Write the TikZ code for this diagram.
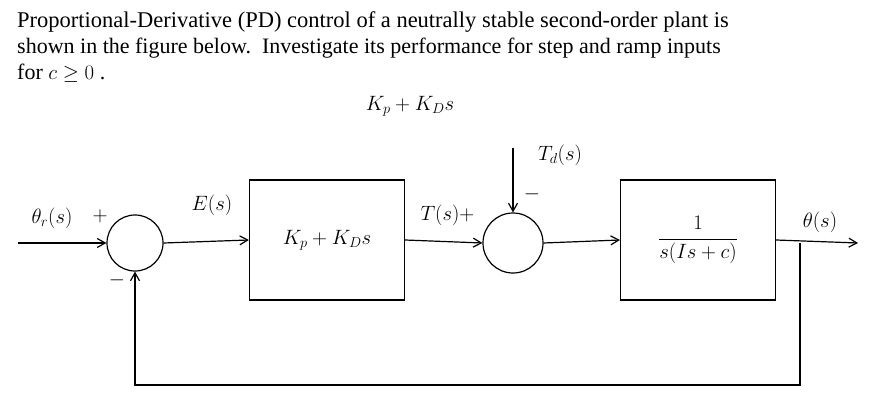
\documentclass[tikz,border=0pt]{standalone}
\usepackage{fontspec}
\setmainfont{Liberation Serif}
\usetikzlibrary{arrows.meta}
\begin{document}
\begin{tikzpicture}[x=1pt,y=-1pt,
  blk/.style={draw,line width=1.2pt,minimum width=155pt,minimum height=120pt},
  sumc/.style={draw,circle,line width=1.2pt,minimum size=56pt,inner sep=0},
  sig/.style={line width=1.2pt,-{Straight Barb[length=8pt,width=9pt]}},
  lbl/.style={font=\fontsize{22}{26}\selectfont,inner sep=0}]
\useasboundingbox (0,0) rectangle (892,409);
\node[lbl,anchor=west,align=left] (hdr) at (17,47) {\fontsize{22.5}{29}\selectfont Proportional-Derivative (PD) control of a neutrally stable second-order plant is\\ shown in the figure below.\ \ Investigate its performance for step and ramp inputs\\ for \(c\geq 0\) .};
\node[lbl] (kk) at (410,106) {\(K_p+K_D s\)};
\node[sumc] (s1) at (135,243) {};
\node[sumc,minimum size=60pt] (s2) at (513,243) {};
\node[blk] (b1) at (327,240) {};
\node[lbl] (b1t) at (327,240) {\(K_p+K_D s\)};
\node[blk] (b2) at (698,240) {};
\node[lbl] (b2t) at (698,240) {\(\displaystyle\frac{1}{s(Is+c)}\)};
\coordinate (in) at (18,243);
\coordinate (td) at (513,148);
\coordinate (out) at (858,243);
\coordinate (fb) at (800,243);
\coordinate (fb1) at (800,385);
\coordinate (fb2) at (135,385);
\draw[sig] (in) -- (s1.west);
\draw[sig] (s1.east) -- (b1.west);
\draw[sig] (b1.east) -- (s2.west);
\draw[sig] (td) -- (s2.north);
\draw[sig] (s2.east) -- (b2.west);
\draw[sig] (b2.east) -- (out);
\draw[sig] (fb) -- (fb1) -- (fb2) -- (s1.south);
\node[lbl] (l1) at (52,218) {\(\theta_r(s)\)};
\node[lbl] (l2) at (100,216) {\(+\)};
\node[lbl] (l3) at (212,205) {\(E(s)\)};
\node[lbl] (l4) at (440,215) {\(T(s)\)\rlap{\(+\)}};
\node[lbl] (l5) at (560,155) {\(T_d(s)\)};
\node[lbl] (l6) at (532,194) {\(-\)};
\node[lbl] (l7) at (820,222) {\(\theta(s)\)};
\node[lbl] (l8) at (117,280) {\(-\)};
\end{tikzpicture}
\end{document}
